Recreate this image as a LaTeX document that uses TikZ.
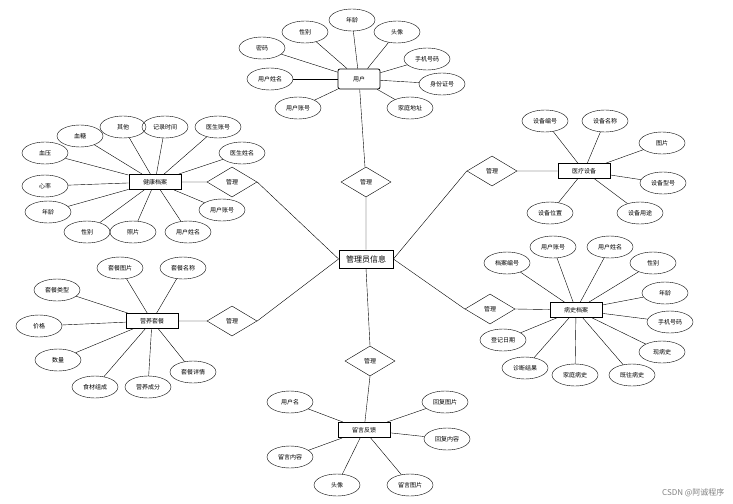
\documentclass[tikz,border=0pt]{standalone}
\usepackage{fontspec}
\setmainfont{Noto Sans CJK SC}
\usetikzlibrary{shapes.geometric}
\begin{document}
\begin{tikzpicture}[x=1pt,y=-1pt,
  attr/.style={draw,ellipse,minimum width=46pt,minimum height=22pt,inner sep=0pt,font=\fontsize{6}{7}\selectfont},
  ent/.style={draw,rectangle,thick,minimum width=52pt,minimum height=15pt,inner sep=1pt,font=\fontsize{6}{7}\selectfont},
  rel/.style={draw,diamond,aspect=1.7,minimum width=50pt,minimum height=30pt,inner sep=0pt,font=\fontsize{6}{7}\selectfont}]
\useasboundingbox (0,0) rectangle (733,503);

% centre
\node[ent,minimum width=54pt,minimum height=18pt,font=\fontsize{8}{9}\selectfont] (admin) at (366,259) {管理员信息};

% user
\node[ent,rounded corners=2pt,minimum width=42pt,minimum height=20pt] (user) at (359,79) {用户};
\node[attr] (u1) at (352,20) {年龄};
\node[attr] (u2) at (305,32) {性别};
\node[attr] (u3) at (397,32) {头像};
\node[attr] (u4) at (262,48) {密码};
\node[attr] (u5) at (427,59) {手机号码};
\node[attr] (u6) at (442,84) {身份证号};
\node[attr] (u7) at (410,108) {家庭地址};
\node[attr] (u8) at (270,79) {用户姓名};
\node[attr] (u9) at (298,108) {用户账号};
\foreach \a in {u1,u2,u3,u4,u5,u6,u7,u8,u9} \draw (\a) -- (user);
\node[rel] (r1) at (366,182) {管理};
\draw (user) -- (r1) -- (admin);

% health record
\node[ent] (health) at (155,182) {健康档案};
\node[attr] (h1) at (123,127) {其他};
\node[attr] (h2) at (165,127) {记录时间};
\node[attr] (h3) at (218,127) {医生账号};
\node[attr] (h4) at (242,153) {医生姓名};
\node[attr] (h5) at (80,136) {血糖};
\node[attr] (h6) at (45,153) {血压};
\node[attr] (h7) at (45,186) {心率};
\node[attr] (h8) at (48,212) {年龄};
\node[attr] (h9) at (87,232) {性别};
\node[attr] (h10) at (133,232) {照片};
\node[attr] (h11) at (188,232) {用户姓名};
\node[attr] (h12) at (222,210) {用户账号};
\foreach \a in {h1,h2,h3,h4,h5,h6,h7,h8,h9,h10,h11,h12} \draw (\a) -- (health);
\node[rel] (r2) at (232,182) {管理};
\draw (health) -- (r2.west) (r2.east) -- (admin.west);

% devices
\node[ent] (dev) at (584,171) {医疗设备};
\node[attr] (d1) at (545,121) {设备编号};
\node[attr] (d2) at (605,121) {设备名称};
\node[attr] (d3) at (662,143) {图片};
\node[attr] (d4) at (663,183) {设备型号};
\node[attr] (d5) at (640,213) {设备用途};
\node[attr] (d6) at (550,213) {设备位置};
\foreach \a in {d1,d2,d3,d4,d5,d6} \draw (\a) -- (dev);
\node[rel] (r3) at (492,171) {管理};
\draw (dev) -- (r3.east) (r3.west) -- (admin.east);

% medical history
\node[ent] (hist) at (576,310) {病史档案};
\node[attr] (m1) at (507,263) {档案编号};
\node[attr] (m2) at (553,247) {用户账号};
\node[attr] (m3) at (610,247) {用户姓名};
\node[attr] (m4) at (653,263) {性别};
\node[attr] (m5) at (665,293) {年龄};
\node[attr] (m6) at (670,322) {手机号码};
\node[attr] (m7) at (662,352) {现病史};
\node[attr] (m8) at (632,375) {既往病史};
\node[attr] (m9) at (575,375) {家庭病史};
\node[attr] (m10) at (525,368) {诊断结果};
\node[attr] (m11) at (503,340) {登记日期};
\foreach \a in {m1,m2,m3,m4,m5,m6,m7,m8,m9,m10,m11} \draw (\a) -- (hist);
\node[rel] (r4) at (490,309) {管理};
\draw (hist) -- (r4.east) (r4.west) -- (admin.east);

% meal
\node[ent] (meal) at (152,321) {营养套餐};
\node[attr] (s1) at (120,268) {套餐图片};
\node[attr] (s2) at (183,268) {套餐名称};
\node[attr] (s3) at (57,290) {套餐类型};
\node[attr] (s4) at (39,326) {价格};
\node[attr] (s5) at (58,360) {数量};
\node[attr] (s6) at (95,387) {食材组成};
\node[attr] (s7) at (148,387) {营养成分};
\node[attr] (s8) at (193,372) {套餐详情};
\foreach \a in {s1,s2,s3,s4,s5,s6,s7,s8} \draw (\a) -- (meal);
\node[rel] (r5) at (232,321) {管理};
\draw (meal) -- (r5.west) (r5.east) -- (admin.west);

% feedback
\node[ent] (fb) at (364,430) {留言反馈};
\node[attr] (f1) at (290,402) {用户名};
\node[attr] (f2) at (290,457) {留言内容};
\node[attr] (f3) at (337,485) {头像};
\node[attr] (f4) at (410,485) {留言图片};
\node[attr] (f5) at (445,402) {回复图片};
\node[attr] (f6) at (447,439) {回复内容};
\foreach \a in {f1,f2,f3,f4,f5,f6} \draw (\a) -- (fb);
\node[rel] (r6) at (370,361) {管理};
\draw (fb) -- (r6.south) (r6.north) -- (admin.south);

\node[anchor=south east,text=gray,font=\fontsize{8}{9}\selectfont] (mark) at (728,500) {CSDN @阿诚程序};
\end{tikzpicture}
\end{document}
